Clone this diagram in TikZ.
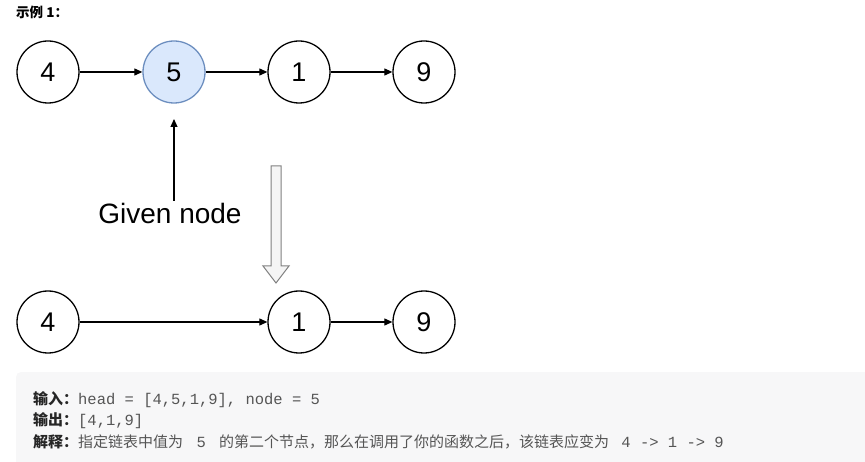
\documentclass[tikz,border=0pt]{standalone}
\usepackage{fontspec}
\setmainfont{Liberation Sans}
\setmonofont{Liberation Mono}
\newfontfamily\cjk{Noto Sans CJK SC}
\usetikzlibrary{arrows.meta}
\definecolor{nodeblue}{HTML}{DAE8FC}
\definecolor{nodeedge}{HTML}{6C8EBF}
\definecolor{boxgray}{HTML}{F7F7F8}
\definecolor{codegray}{HTML}{555555}
\definecolor{labelblack}{HTML}{262626}
\begin{document}
\begin{tikzpicture}[x=1pt,y=-1pt,
    listnode/.style={circle,draw,line width=1.3pt,minimum size=62pt,inner sep=0pt,font=\fontsize{27}{27}\selectfont},
    given/.style={listnode,fill=nodeblue,draw=nodeedge},
    link/.style={-{Triangle[length=8pt,width=7pt]},line width=1.1pt},
    textline/.style={anchor=west,inner sep=0pt,font=\fontsize{15}{15}\selectfont}]
        \useasboundingbox (0,0) rectangle (865,462);

        % draw title
        \node[anchor=west,inner sep=0pt,font=\cjk\bfseries\fontsize{13.5}{13.5}\selectfont] (title) at (16,12) {示例 1：};

        % draw top list
        \node[listnode] (a4) at (48,72) {4};
        \node[given] (a5) at (174,72) {5};
        \node[listnode] (a1) at (299,72) {1};
        \node[listnode] (a9) at (424,72) {9};
        \draw[link] (a4) -- (a5);
        \draw[link] (a5) -- (a1);
        \draw[link] (a1) -- (a9);

        % draw pointer to given node
        \node[font=\fontsize{28}{28}\selectfont,inner sep=2pt] (lbl) at (170,213) {Given node};
        \coordinate (tip) at (174,119);
        \draw[link] (lbl.north -| tip) -- (tip);

        % draw hollow arrow
        \draw[fill=gray!8,draw=gray,line width=1pt]
          (271,166) -- (281,166) -- (281,266) -- (289,266) -- (276,283)
          -- (263,266) -- (271,266) -- cycle;

        % draw bottom list
        \node[listnode] (b4) at (48,322) {4};
        \node[listnode] (b1) at (299,322) {1};
        \node[listnode] (b9) at (424,322) {9};
        \draw[link] (b4) -- (b1);
        \draw[link] (b1) -- (b9);

        % draw example box
        \fill[boxgray,rounded corners=5pt] (16,372) rectangle (880,470);
        \node[textline] (in) at (33,400) {{\cjk\bfseries\color{labelblack}输入：}{\ttfamily\fontsize{15.5}{15.5}\selectfont\color{codegray}head = [4,5,1,9], node = 5}};
        \node[textline] (out) at (33,421) {{\cjk\bfseries\color{labelblack}输出：}{\ttfamily\fontsize{15.5}{15.5}\selectfont\color{codegray}[4,1,9]}};
        \node[textline] (why) at (33,442) {{\cjk\bfseries\color{labelblack}解释：}{\color{codegray}{\cjk 指定链表中值为}\hspace{4pt}{\ttfamily\fontsize{15.5}{15.5}\selectfont~5~}\hspace{4pt}{\cjk 的第二个节点，那么在调用了你的函数之后，该链表应变为}\hspace{3pt}{\ttfamily\fontsize{15.5}{15.5}\selectfont~4 -> 1 -> 9}}};
        \end{tikzpicture}
\end{document}
